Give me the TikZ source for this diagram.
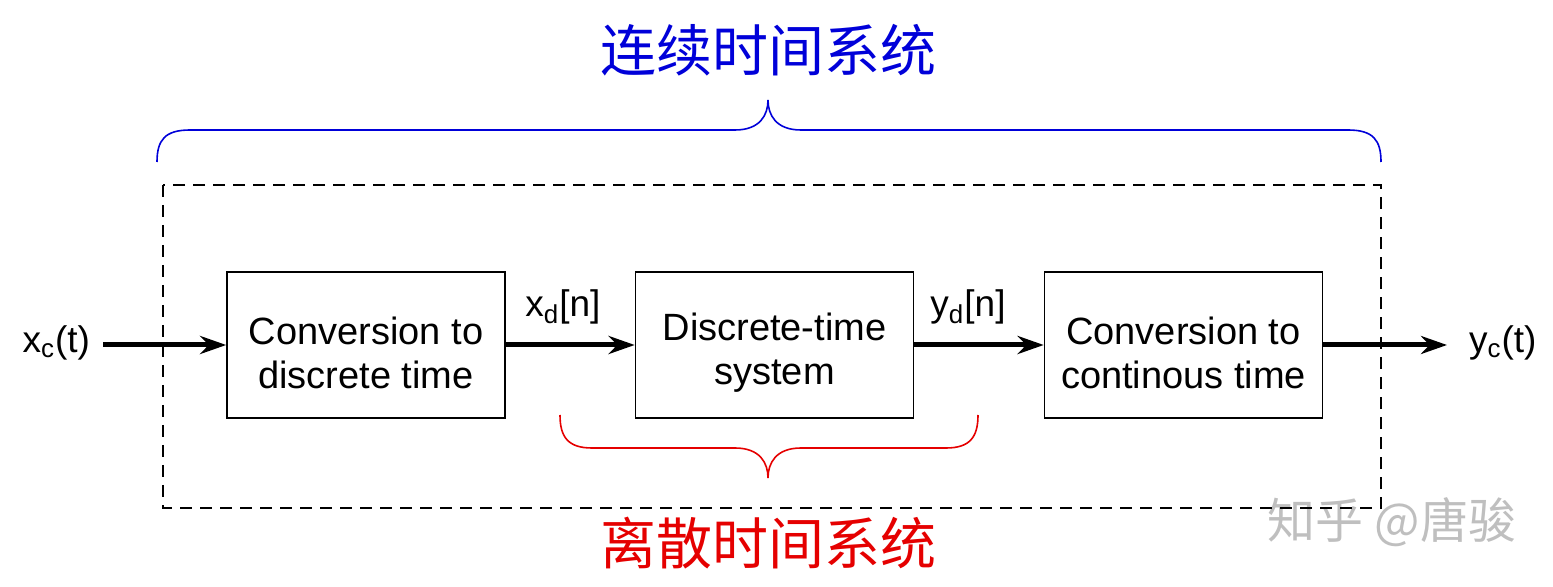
\documentclass[tikz,border=0pt]{standalone}
\usepackage{fontspec}
\setmainfont{Liberation Sans}
\newfontfamily\cjk{Noto Sans CJK SC}
\usetikzlibrary{arrows.meta}
\begin{document}
\begin{tikzpicture}[x=0.5pt,y=-0.5pt,
  blk/.style={draw,thick,minimum width=139pt,minimum height=73pt,inner sep=0pt},
  txt/.style={align=center,font=\fontsize{19}{22}\selectfont,inner sep=0pt},
  sig/.style={-{Stealth[length=13pt,width=9pt]},line width=2.5pt},
  lab/.style={font=\fontsize{18.5}{22}\selectfont},
  zh/.style={font=\cjk\fontsize{28}{32}\selectfont}]
\useasboundingbox (0,0) rectangle (1553,587);
\node[zh,text=blue!85!black] (t1) at (768,50) {连续时间系统};
\node[zh,text=red!90!black] (t2) at (768,543) {离散时间系统};
\node[font=\cjk\fontsize{24}{28}\selectfont,text=black!25] (wm) at (1392,522) {知乎 @唐骏};
\draw[blue!85!black,thick] (157,162) .. controls (157,140) and (165,130) .. (190,130) -- (735,130) .. controls (760,130) and (768,115) .. (768,100)
  .. controls (768,115) and (776,130) .. (801,130) -- (1348,130) .. controls (1373,130) and (1381,140) .. (1381,162);
\draw[red!90!black,thick] (560,415) .. controls (560,437) and (568,448) .. (592,448) -- (735,448) .. controls (760,448) and (768,463) .. (768,478)
  .. controls (768,463) and (776,448) .. (801,448) -- (946,448) .. controls (970,448) and (978,437) .. (978,415);
\draw[thick,dash pattern=on 6pt off 4pt] (163,185) rectangle (1381,508);
\node[blk] (b1) at (366,345) {};
\node[blk] (b2) at (774.5,345) {};
\node[blk] (b3) at (1183.5,345) {};
\node[txt] (b1t) at (366,353) {Conversion to\\discrete time};
\node[txt] (b2t) at (774.5,353) {Discrete-time\\system};
\node[txt] (b3t) at (1183.5,353) {Conversion to\\continous time};
\coordinate (xcA) at (103,345);
\coordinate (ycA) at (1447,345);
\node[lab,anchor=east] (xc) at (97,343) {x\textsubscript{c}(t)};
\node[lab,anchor=west] (yc) at (1462,343) {y\textsubscript{c}(t)};
\draw[sig] (xcA) -- (b1.west|-xcA);
\draw[sig] (b1.east|-xcA) -- (b2.west|-xcA);
\draw[sig] (b2.east|-xcA) -- (b3.west|-xcA);
\draw[sig] (b3.east|-xcA) -- (ycA);
\node[lab] (xd) at (563,307) {x\textsubscript{d}[n]};
\node[lab] (yd) at (968,307) {y\textsubscript{d}[n]};
\end{tikzpicture}
\end{document}
